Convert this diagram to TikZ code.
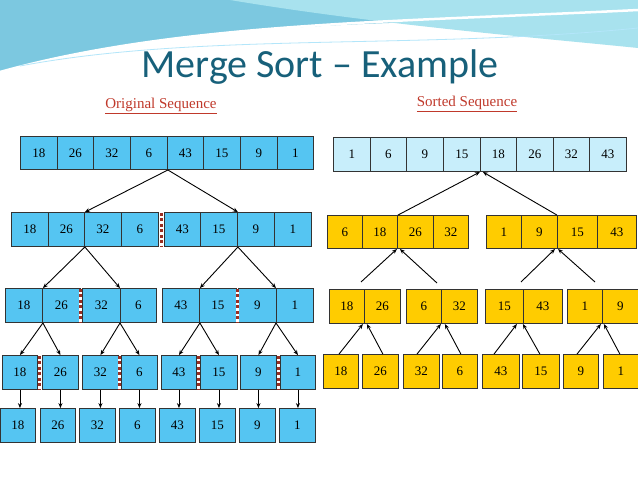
\documentclass[tikz,border=0pt]{standalone}
\usepackage{fontspec}
\newfontfamily\titlefont{Carlito}
\newfontfamily\serfont{Liberation Serif}
\usetikzlibrary{arrows.meta}
\definecolor{cblue}{HTML}{55C5F2}
\definecolor{clight}{HTML}{C8EEFB}
\definecolor{cgold}{HTML}{FFCC00}
\definecolor{ctitle}{HTML}{17607A}
\definecolor{cred}{HTML}{C0392B}
\definecolor{wave1}{HTML}{7CC8E0}
\definecolor{wave2}{HTML}{A8E2EE}
\tikzset{
 cell/.style={draw=black!80,line width=0.9pt,inner sep=0pt,anchor=south west,font=\serfont\fontsize{13}{13}\selectfont},
 arr/.style={-{Stealth[length=5pt,width=4pt]},line width=0.9pt},
 sep/.style={line width=3pt,draw=white},
 sepd/.style={line width=3pt,draw=cred!80!black,dash pattern=on 3pt off 2.5pt}
}
\newcommand\mkcells[5]{\foreach \a/\b/\t [count=\i] in {#5}{
 \node[cell,fill=#2,minimum width={(\b-\a)*1pt},minimum height={(#4-#3)*1pt}] (#1\i) at (\a,#4) {\t};}}
\newcommand\mksep[3]{\draw[sep] (#1,#2)--(#1,#3); \draw[sepd] (#1,#2)--(#1,#3);}
\begin{document}
\begin{tikzpicture}[x=1pt,y=-1pt]
\useasboundingbox (0,0) rectangle (638,478);
\fill[white] (0,0) rectangle (638,478);
% waves
\fill[wave1] (0,0) -- (638,0) -- (638,15) .. controls (450,25) and (200,15) .. (0,72) -- cycle;
\fill[wave2] (230,0) -- (638,0) -- (638,48) .. controls (540,38) and (380,25) .. (230,0) -- cycle;
\draw[white,line width=2.5pt] (0,72) .. controls (180,22) and (400,22) .. (638,10);
\draw[white!70!cyan,line width=0.8pt] (20,66) .. controls (200,32) and (420,50) .. (638,28);
\node[font=\titlefont\fontsize{40}{40}\selectfont,text=ctitle] (title) at (320,67) {Merge Sort – Example};
\node[font=\serfont\fontsize{15}{15}\selectfont,text=cred] (orig) at (161,106) {\underline{Original Sequence}};
\node[font=\serfont\fontsize{15}{15}\selectfont,text=cred] (sorted) at (467,104) {\underline{Sorted Sequence}};
% LEFT
\mkcells{a}{cblue}{137}{170}{20/57/18,57/93/26,93/130/32,130/167/6,167/203/43,203/240/15,240/277/9,277/313/1}
\mkcells{b}{cblue}{213}{247}{11/48/18,48/84/26,84/121/32,121/158/6,164/200/43,200/237/15,237/274/9,274/311/1}
\mksep{161}{213}{247}
\mkcells{c}{cblue}{289}{323}{5/42/18,42/80/26,82/120/32,120/156/6,162/199/43,199/236/15,238/276/9,276/313/1}
\mksep{80.5}{289}{323}\mksep{237}{289}{323}
\mkcells{d}{cblue}{356}{390}{2/37/18,42/78/26,82/118/32,121/157/6,161/196/43,200/237/15,240/276/9,280/315/1}
\mksep{39.5}{356}{390}\mksep{119.5}{356}{390}\mksep{198}{356}{390}\mksep{278}{356}{390}
\mkcells{e}{cblue}{409}{443}{0/35/18,40/75/26,79/115/32,119/155/6,159/195/43,199/235/15,239/275/9,279/315/1}
\draw[arr] (a4.south east) -- (b2.north east);
\draw[arr] (a4.south east) -- (b6.north east);
\draw[arr] (b2.south east) -- (c1.north east);
\draw[arr] (b2.south east) -- (c4.north west);
\draw[arr] (b6.south east) -- (c5.north east);
\draw[arr] (b6.south east) -- (c8.north west);
\draw[arr] (c1.south east) -- (d1.north);
\draw[arr] (c1.south east) -- (d2.north);
\draw[arr] (c4.south west) -- (d3.north);
\draw[arr] (c4.south west) -- (d4.north);
\draw[arr] (c5.south east) -- (d5.north);
\draw[arr] (c5.south east) -- (d6.north);
\draw[arr] (c8.south west) -- (d7.north);
\draw[arr] (c8.south west) -- (d8.north);
\foreach \i in {1,...,8}{\draw[arr] (d\i.south) -- (d\i.south|-e\i.north);}
% RIGHT
\mkcells{s}{clight}{138}{172}{333/370/1,370/406/6,406/443/9,443/480/15,480/516/18,516/553/26,553/589/32,589/626/43}
\mkcells{f}{cgold}{216}{249}{327/362/6,362/397/18,397/433/26,433/468/32,486/521/1,521/557/9,557/597/15,597/636/43}
\mkcells{g}{cgold}{290}{324}{329/364/18,364/400/26,406/441/6,441/477/32,485/523/15,523/562/43,567/602/1,602/638/9}
\mkcells{h}{cgold}{355}{389}{323/358/18,362/398/26,403/439/32,442/477/6,482/519/43,522/559/15,563/598/9,603/638/1}
\coordinate (m1) at (361,282); \coordinate (m2) at (437,283);
\coordinate (m3) at (521,282); \coordinate (m4) at (595,282);
\draw[arr] (f2.north east) -- ([xshift=-1pt]s4.south east);
\draw[arr] (f7.north west) -- ([xshift=2pt]s4.south east);
\draw[arr] (m1) -- ([xshift=-1pt]f2.south east);
\draw[arr] (m2) -- ([xshift=2pt]f2.south east);
\draw[arr] (m3) -- ([xshift=-2pt]f7.south west);
\draw[arr] (m4) -- ([xshift=1pt]f7.south west);
\draw[arr] ([xshift=16pt]h1.north west) -- ([xshift=-2pt]g1.south east);
\draw[arr] ([xshift=-16pt]h2.north east) -- ([xshift=2pt]g1.south east);
\draw[arr] ([xshift=14pt]h3.north west) -- ([xshift=-1pt]g3.south east);
\draw[arr] ([xshift=-17pt]h4.north east) -- ([xshift=3pt]g3.south east);
\draw[arr] ([xshift=12pt]h5.north west) -- ([xshift=-7pt]g5.south east);
\draw[arr] ([xshift=-20pt]h6.north east) -- ([xshift=-1pt]g5.south east);
\draw[arr] ([xshift=14pt]h7.north west) -- ([xshift=-2pt]g7.south east);
\draw[arr] ([xshift=-19pt]h8.north east) -- ([xshift=1pt]g7.south east);
\end{tikzpicture}
\end{document}
